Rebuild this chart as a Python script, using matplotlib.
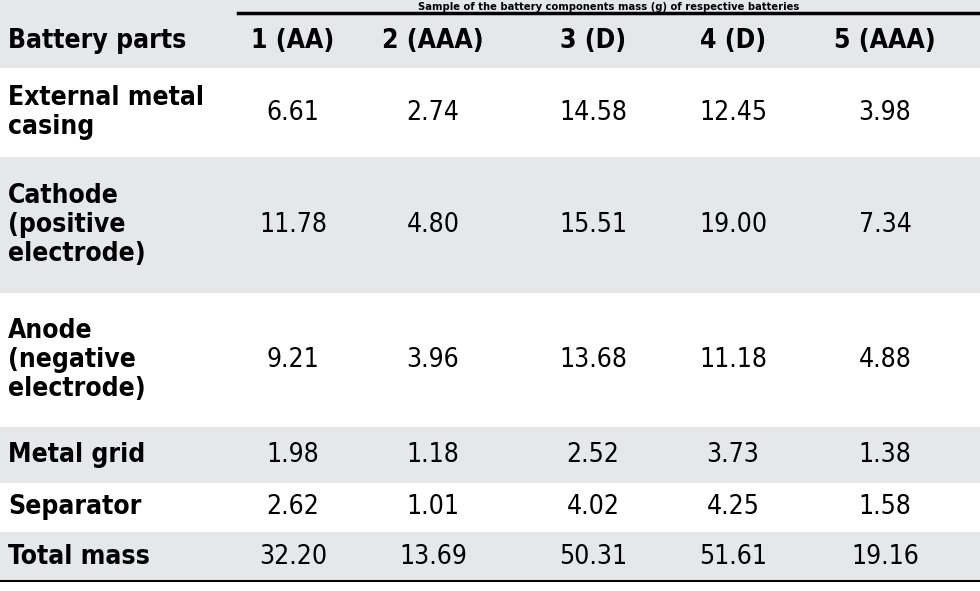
import matplotlib.pyplot as plt
from matplotlib.patches import Rectangle

parts = ['External metal\ncasing', 'Cathode\n(positive\nelectrode)', 'Anode\n(negative\nelectrode)',
         'Metal grid', 'Separator', 'Total mass']
batteries = ['1 (AA)', '2 (AAA)', '3 (D)', '4 (D)', '5 (AAA)']
values = [
    [6.61, 2.74, 14.58, 12.45, 3.98],
    [11.78, 4.80, 15.51, 19.00, 7.34],
    [9.21, 3.96, 13.68, 11.18, 4.88],
    [1.98, 1.18, 2.52, 3.73, 1.38],
    [2.62, 1.01, 4.02, 4.25, 1.58],
    [32.20, 13.69, 50.31, 51.61, 19.16],
]
title = 'Sample of the battery components mass (g) of respective batteries'

plt.rcParams['font.family'] = ['DejaVu Sans']
plt.rcParams['font.stretch'] = 'condensed'
grey = '#e6e7e8'

fig = plt.figure(figsize=(9.8, 5.91), dpi=100)
ax = fig.add_axes([0, 0, 1, 1])
ax.set_xlim(0, 980)
ax.set_ylim(591, 0)
ax.axis('off')

# row boundaries in pixels
edges = [13, 68, 157, 293, 427, 483, 532, 581]
col_x = [293, 433, 593, 733, 885]

for i in range(len(edges) - 1):
    if i % 2 == 0:
        ax.add_patch(Rectangle((0, edges[i]), 980, edges[i + 1] - edges[i], color=grey, lw=0))
ax.add_patch(Rectangle((0, 0), 980, 13, color=grey, lw=0))

ax.text(609, 7, title, ha='center', va='center', fontsize=8, fontweight='bold')
ax.plot([238, 980], [13, 13], color='black', lw=2.5)
ax.plot([0, 980], [581, 581], color='black', lw=1.5)

fs = 19
ymid = (edges[0] + edges[1]) / 2
ax.text(8, ymid, 'Battery parts', ha='left', va='center', fontsize=fs, fontweight='bold')
for x, b in zip(col_x, batteries):
    ax.text(x, ymid, b, ha='center', va='center', fontsize=fs, fontweight='bold')

for r, (p, row) in enumerate(zip(parts, values)):
    ymid = (edges[r + 1] + edges[r + 2]) / 2
    ax.text(8, ymid, p, ha='left', va='center', fontsize=fs, fontweight='bold', linespacing=1.15)
    for x, v in zip(col_x, row):
        ax.text(x, ymid, f'{v:.2f}', ha='center', va='center', fontsize=fs)

fig.savefig('out.png', dpi=100)
